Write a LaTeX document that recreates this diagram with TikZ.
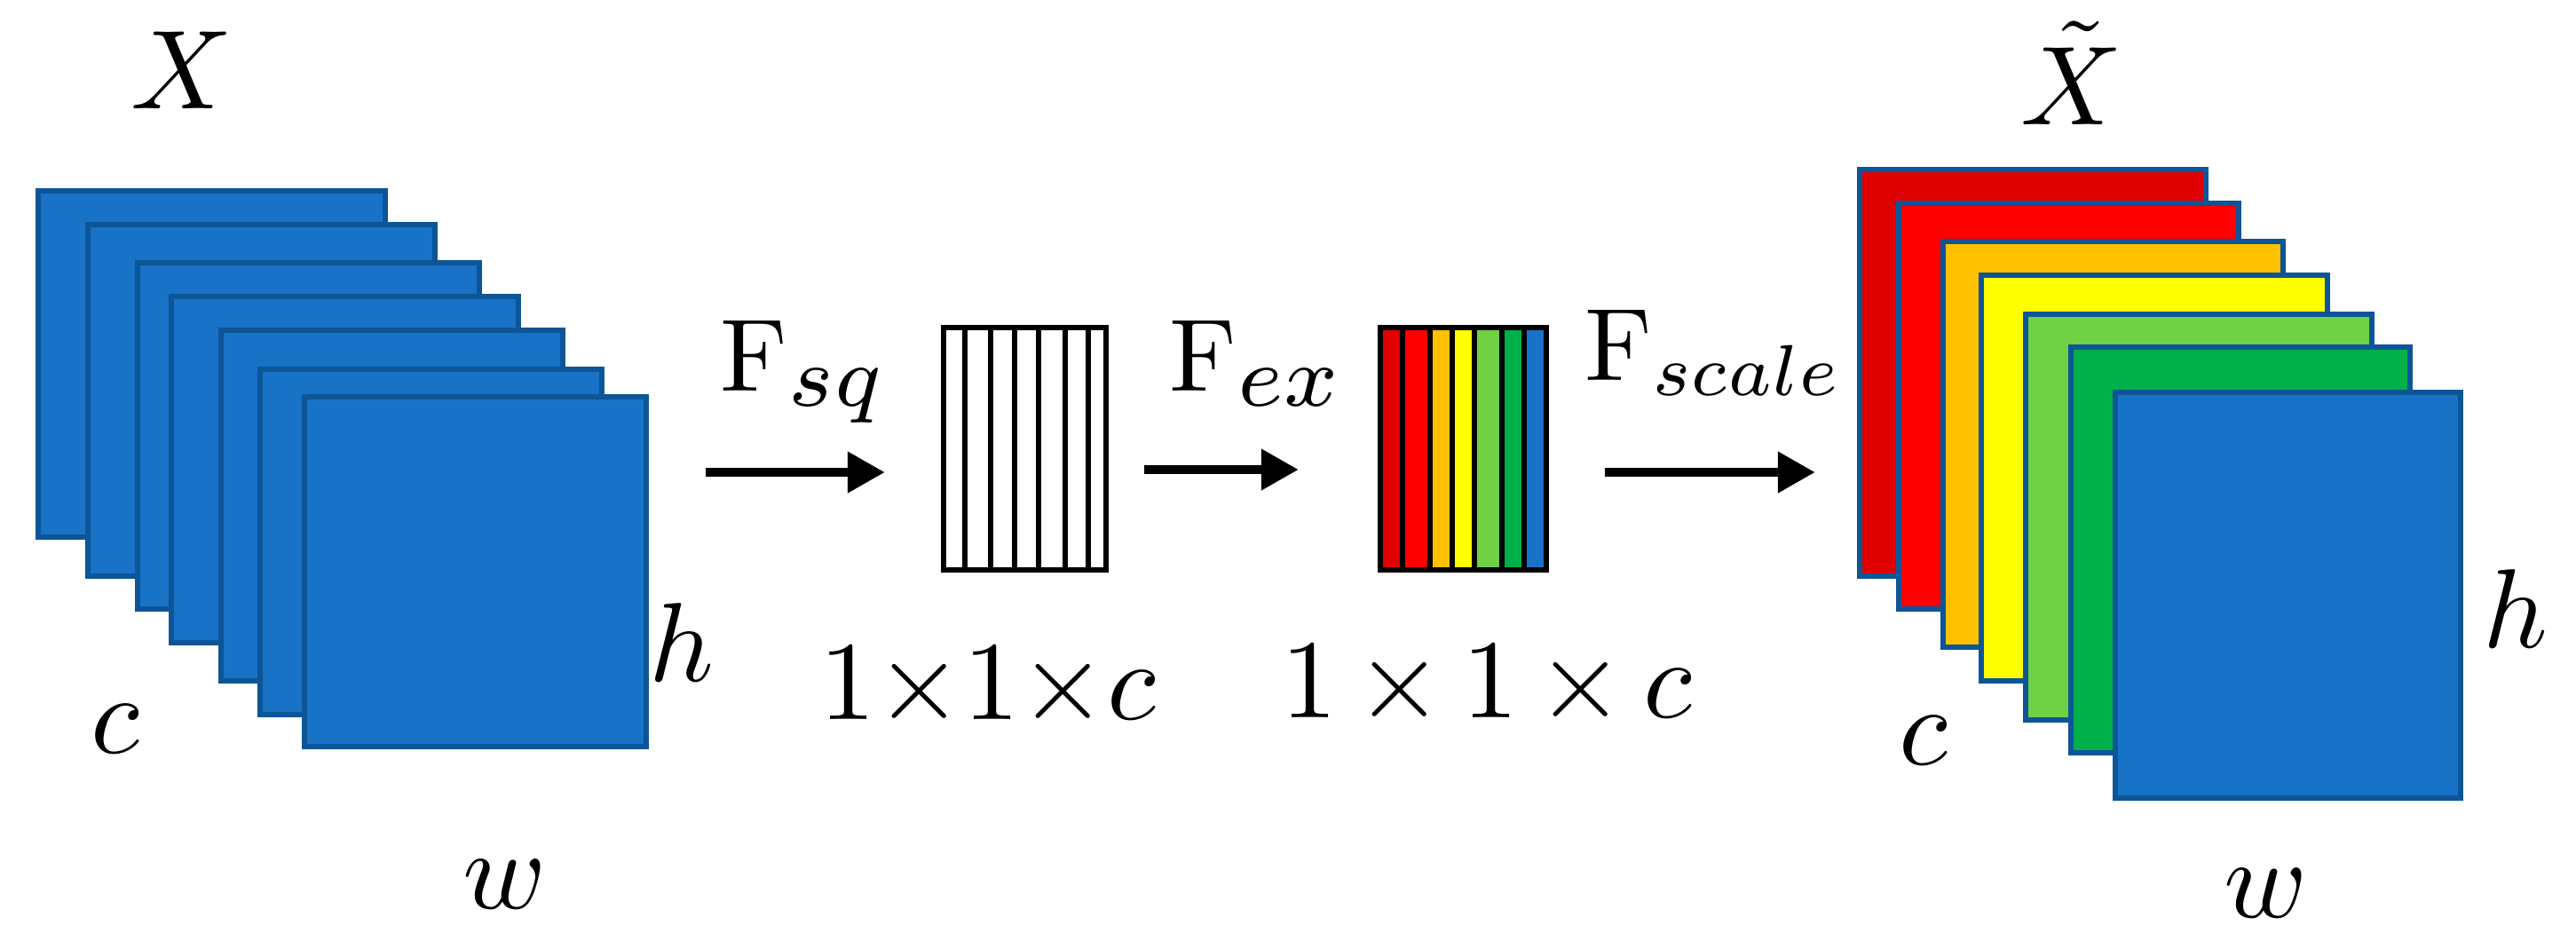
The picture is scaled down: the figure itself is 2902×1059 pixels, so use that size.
\documentclass[tikz,border=0pt]{standalone}
\usepackage{amsmath}
\usepackage{graphicx}
\usetikzlibrary{arrows.meta}
\definecolor{fmblue}{HTML}{1872C6}
\definecolor{fmedge}{HTML}{0C5597}
\definecolor{cdred}{HTML}{E00000}
\definecolor{cred}{HTML}{FF0000}
\definecolor{corange}{HTML}{FFC000}
\definecolor{cyellow}{HTML}{FFFF00}
\definecolor{clgreen}{HTML}{6FD143}
\definecolor{cgreen}{HTML}{00B04A}
\definecolor{cblue}{HTML}{1A72C8}
\newcommand{\bigsub}[2][1.2]{\scalebox{#1}{$\scriptstyle #2$}}
\begin{document}
\begin{tikzpicture}[x=0.01cm,y=-0.01cm,
  fmap/.style={draw=fmedge,line width=1.6pt},
  lbl/.style={inner sep=0pt,scale=3.6,anchor=base},
  flbl/.style={inner sep=0pt,scale=3.3,anchor=base west},
  dimlbl/.style={inner sep=0pt,scale=3.6,anchor=base west},
  arr/.style={line width=3pt,-{Triangle[length=12pt,width=12.5pt]}},
  vec/.style={draw=black,line width=1.7pt}]
\useasboundingbox (0,0) rectangle (2902,1059);

% input feature maps
\foreach \xa/\ya/\xb/\yb in {43/215/434/605, 99/253/490/649, 155/296/540/686,
  193/334/584/724, 249/372/634/767, 293/416/678/805, 343/447/728/841}
  \filldraw[fmap,fill=fmblue] (\xa,\ya) rectangle (\xb,\yb);

% output feature maps
\foreach \xa/\ya/\xb/\yb/\c in {2095/191/2485/649/cdred, 2139/229/2522/686/cred,
  2189/272/2572/729/corange, 2232/310/2622/767/cyellow, 2282/354/2672/811/clgreen,
  2333/391/2715/848/cgreen, 2383/442/2772/899/fmblue}
  \filldraw[fmap,fill=\c] (\xa,\ya) rectangle (\xb,\yb);

% squeezed vector
\draw[vec] (1063,369) rectangle (1246,642);
\foreach \xx in {1087,1116,1143,1170,1200,1226}
  \draw[vec] (\xx,369) -- (\xx,642);

% excitation vector
\foreach \xa/\xb/\c in {1554.5/1580/cdred, 1580/1611/cred, 1611/1636/corange,
  1636/1661/cyellow, 1661/1692/clgreen, 1692/1717/cgreen, 1717/1742/cblue}
  \fill[\c] (\xa,369) rectangle (\xb,642);
\foreach \xx in {1580,1611,1636,1661,1692,1717}
  \draw[vec] (\xx,369) -- (\xx,642);
\draw[vec] (1554.5,369) rectangle (1742,642);

% arrows
\coordinate (a1s) at (795,532);  \coordinate (a1e) at (997,532);
\coordinate (a2s) at (1289,529); \coordinate (a2e) at (1463,529);
\coordinate (a3s) at (1808,532); \coordinate (a3e) at (2045,532);
\draw[arr] (a1s) -- (a1e);
\draw[arr] (a2s) -- (a2e);
\draw[arr] (a3s) -- (a3e);

% labels
\node[lbl] (Xin) at (205,122) {$X$};
\node[lbl] (cin) at (130,848) {$c$};
\node[lbl] (hin) at (768,767) {$h$};
\node[lbl] (win) at (569,1023) {$w$};
\node[lbl] (Xout) at (2334,140) {$\tilde{X}$};
\node[lbl] (cout) at (2167,861) {$c$};
\node[lbl] (hout) at (2834,729) {$h$};
\node[lbl] (wout) at (2552,1033) {$w$};

\node[flbl] (fsq) at (809,440) {$\mathrm{F}_{\bigsub{sq}}$};
\node[flbl] (fex) at (1315,440) {$\mathrm{F}_{\bigsub{ex}}$};
\node[flbl] (fsc) at (1783,428) {$\mathrm{F}_{\bigsub[1.0]{scale}}$};

\node[dimlbl] (d1) at (921,810) {$1{\times}1{\times}c$};
\node[dimlbl] (d2) at (1441,808) {$1\,{\times}\,1\,{\times}\,c$};
\end{tikzpicture}
\end{document}
